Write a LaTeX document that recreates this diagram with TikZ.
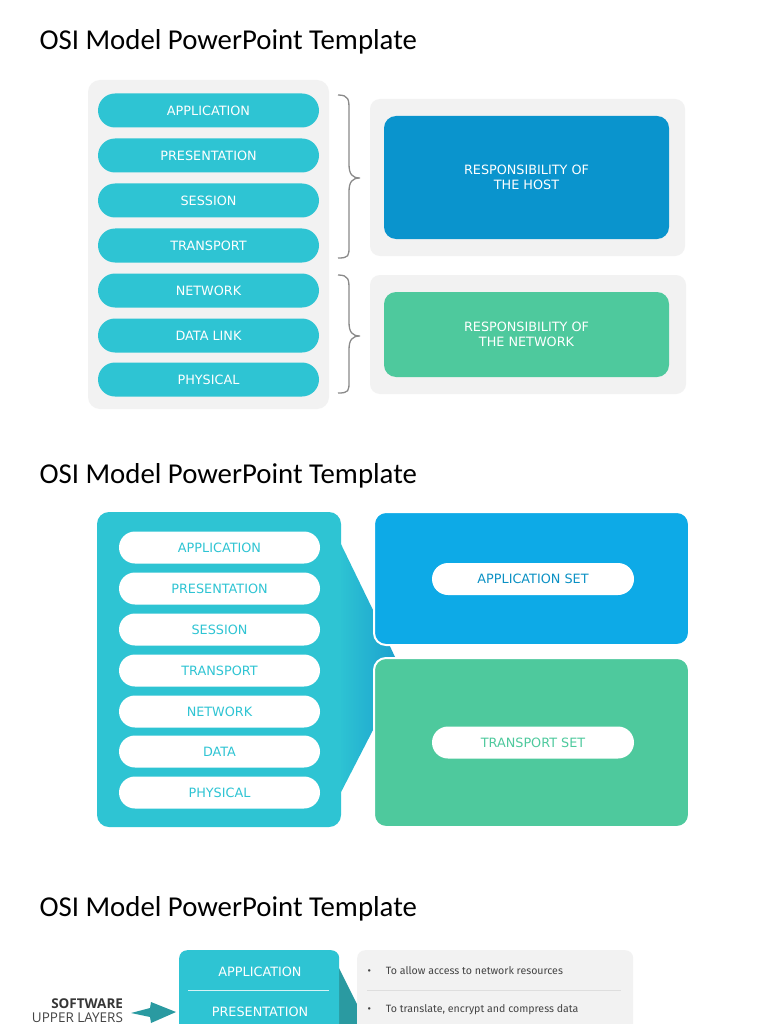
\documentclass[tikz,border=0pt]{standalone}
\usepackage{fontspec}
\setmainfont{DejaVu Sans}
\newfontfamily\titlefont{Carlito}
\newfontfamily\bulletfont{Fira Sans}
\newfontfamily\sidefont{Open Sans}
\definecolor{teal1}{HTML}{2EC4D3}
\definecolor{hostblue}{HTML}{0A94CD}
\definecolor{netgreen}{HTML}{4EC99D}
\definecolor{appblue}{HTML}{0DAAE7}
\definecolor{panelgrey}{HTML}{F2F2F2}
\definecolor{darkteal}{HTML}{2A9AA1}
\definecolor{funnelblue}{HTML}{1CA2CF}
\definecolor{bracegrey}{HTML}{8A8A8A}
\definecolor{txtgrey}{HTML}{444444}
\begin{document}
\begin{tikzpicture}[x=1pt,y=-1pt,
  title/.style={anchor=base west,font=\titlefont\fontsize{28.8}{32}\selectfont,text=black},
  panel/.style={fill=panelgrey,rounded corners=12pt,minimum width=#1,inner sep=0},
  pillA/.style={fill=teal1,rounded corners=17pt,minimum width=221pt,minimum height=34pt,inner sep=0,text=white,font=\fontsize{12.8}{15}\selectfont},
  pillB/.style={fill=white,rounded corners=16pt,minimum width=201pt,minimum height=32pt,inner sep=0,text=teal1,font=\fontsize{12.8}{15}\selectfont},
  bigbox/.style={rounded corners=12pt,inner sep=0,text=white,align=center,font=\fontsize{12.8}{15}\selectfont},
  setbox/.style={rounded corners=12pt,inner sep=0,draw=white,line width=2pt},
  setpill/.style={fill=white,rounded corners=16pt,minimum width=202pt,minimum height=32pt,inner sep=0,font=\fontsize{12.8}{15}\selectfont},
  bracepath/.style={draw=bracegrey,line width=1.3pt},
  bullet/.style={anchor=west,font=\bulletfont\fontsize{10.6}{12}\selectfont,text=txtgrey},
  lbl/.style={text=white,font=\fontsize{12.8}{15}\selectfont},
]
\clip (0,0) rectangle (768,1024);
\useasboundingbox (0,0) rectangle (768,1024);
\fill[white] (0,0) rectangle (768,1024);

% ---------------- Section 1 ----------------
\node[title] (t1) at (36,50) {OSI Model PowerPoint Template};
\node[panel=241pt,minimum height=329pt] (p1) at (208.5,244.5) {};
\node[pillA] (a1) at (208.5,110.5) {APPLICATION};
\node[pillA] (a2) at (208.5,155.5) {PRESENTATION};
\node[pillA] (a3) at (208.5,200.5) {SESSION};
\node[pillA] (a4) at (208.5,245.5) {TRANSPORT};
\node[pillA] (a5) at (208.5,290.5) {NETWORK};
\node[pillA] (a6) at (208.5,335.5) {DATA LINK};
\node[pillA] (a7) at (208.5,379.5) {PHYSICAL};

\coordinate (b1t) at (338,95);
\coordinate (b1m) at (360,178);
\coordinate (b1b) at (338,258);
\draw[bracepath] (b1t) .. controls (349,95) and (349,100) .. (349,110) -- (349,164)
  .. controls (349,174) and (352,178) .. (b1m)
  .. controls (352,178) and (349,182) .. (349,192) -- (349,246)
  .. controls (349,256) and (349,258) .. (b1b);
\coordinate (b2t) at (338,275);
\coordinate (b2m) at (360,336);
\coordinate (b2b) at (338,393);
\draw[bracepath] (b2t) .. controls (349,275) and (349,280) .. (349,290) -- (349,322)
  .. controls (349,332) and (352,336) .. (b2m)
  .. controls (352,336) and (349,340) .. (349,350) -- (349,381)
  .. controls (349,391) and (349,393) .. (b2b);

\node[panel=315pt,minimum height=157pt,rounded corners=10pt] (g1) at (527.5,177.5) {};
\node[bigbox,fill=hostblue,minimum width=285pt,minimum height=123pt] (host) at (526.5,177.5) {RESPONSIBILITY OF\\THE HOST};
\node[panel=316pt,minimum height=119pt,rounded corners=10pt] (g2) at (528,334.5) {};
\node[bigbox,fill=netgreen,minimum width=285pt,minimum height=85pt] (net) at (526.5,334.5) {RESPONSIBILITY OF\\THE NETWORK};

% ---------------- Section 2 ----------------
\node[title] (t2) at (36,483) {OSI Model PowerPoint Template};
\shade[left color=teal1,right color=funnelblue] (338,538) -- (373,610) -- (395,657) -- (395,668) -- (373,730) -- (338,798) -- cycle;
\node[fill=teal1,rounded corners=12pt,minimum width=244pt,minimum height=315pt,inner sep=0] (p2) at (219,669.5) {};
\node[pillB] (c1) at (219.5,547.5) {APPLICATION};
\node[pillB] (c2) at (219.5,588.5) {PRESENTATION};
\node[pillB] (c3) at (219.5,629.5) {SESSION};
\node[pillB] (c4) at (219.5,670.5) {TRANSPORT};
\node[pillB] (c5) at (219.5,711.5) {NETWORK};
\node[pillB] (c6) at (219.5,751.5) {DATA};
\node[pillB] (c7) at (219.5,792.5) {PHYSICAL};

\node[setbox,fill=appblue,minimum width=315pt,minimum height=133pt] (appset) at (531.5,578.5) {};
\node[setpill,text=appblue!85!black] (appsetl) at (533,579) {APPLICATION SET};
\node[setbox,fill=netgreen,minimum width=315pt,minimum height=169pt] (trset) at (531.5,742.5) {};
\node[setpill,text=netgreen] (trsetl) at (533,742.5) {TRANSPORT SET};

% ---------------- Section 3 ----------------
\node[title] (t3) at (36,916) {OSI Model PowerPoint Template};
\fill[darkteal] (338,966) -- (359,1008) -- (359,1030) -- (338,1030) -- cycle;
\node[fill=teal1,rounded corners=8pt,minimum width=160pt,minimum height=100pt,inner sep=0,anchor=north west] (p3) at (179,950) {};
\node[lbl] (d1) at (260,972) {APPLICATION};
\coordinate (l1a) at (188,990.5);
\coordinate (l1b) at (329,990.5);
\draw[white!80!teal1,line width=1.2pt] (l1a) -- (l1b);
\node[lbl] (d2) at (260,1011.5) {PRESENTATION};

\node[fill=panelgrey,rounded corners=8pt,minimum width=276pt,minimum height=100pt,inner sep=0,anchor=north west] (p4) at (357,950) {};
\node[bullet] (e1) at (364,970.5) {\textbullet\hspace{15pt}To allow access to network resources};
\coordinate (l2a) at (367,990.5);
\coordinate (l2b) at (621,990.5);
\draw[black!13,line width=0.8pt] (l2a) -- (l2b);
\node[bullet] (e2) at (364,1010) {\textbullet\hspace{15pt}To translate, encrypt and compress data};

\node[anchor=base east,font=\sidefont\bfseries\fontsize{13.5}{15}\selectfont,text=txtgrey!80!black] (sw) at (126.5,1008.5) {SOFTWARE};
\node[anchor=base east,font=\sidefont\fontsize{13.5}{15}\selectfont,text=txtgrey,inner ysep=1pt] (ul) at (126.5,1022.5) {UPPER LAYERS};
\fill[darkteal] (131,1013) -- (150,1008) -- (151,1002) -- (176,1012) -- (151,1023) -- (150,1017) -- cycle;
\end{tikzpicture}
\end{document}
